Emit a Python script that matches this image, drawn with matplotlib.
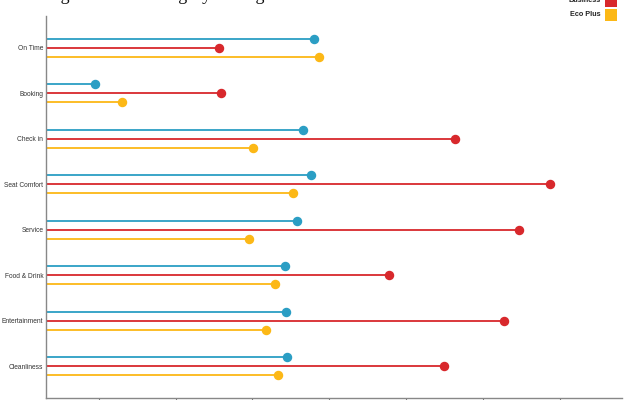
import matplotlib
matplotlib.use("Agg")
import matplotlib.pyplot as plt
from matplotlib.patches import Rectangle
from matplotlib.transforms import Affine2D
import numpy as np

categories = ["On Time", "Booking", "Check in", "Seat Comfort", "Service",
              "Food & Drink", "Entertainment", "Cleanliness"]
series_names = ["Economy", "Business", "Eco Plus"]
economy = [3.80, 0.955, 3.66, 3.76, 3.58, 3.43, 3.44, 3.45]
business = [2.56, 2.59, 5.64, 6.88, 6.47, 4.78, 6.27, 5.49]
eco_plus = [3.87, 1.30, 3.01, 3.53, 2.95, 3.30, 3.18, 3.34]
x_ticks = [1, 2, 3, 4, 5, 6, 7]

colors = ["#2b9ec4", "#d8282c", "#fcb816"]
W, H = 640, 400
fig = plt.figure(figsize=(6.4, 4.0), dpi=100)

# axes in pixel box: left 46, right 622, top 16, bottom 398
ax = fig.add_axes([46 / W, (H - 398) / H, 576 / W, 382 / H])
ax.set_xlim(1 - 52.8 / 76.9, 7 + 62.5 / 76.9)
band = 45.43
ax.set_ylim(7 + 32 / band, -32 / band)

offsets = [-9 / band, 0, 9 / band]
ypos = np.arange(len(categories))
for vals, col, off in zip([economy, business, eco_plus], colors, offsets):
    x0 = ax.get_xlim()[0]
    for y, v in zip(ypos, vals):
        ax.plot([x0, v], [y + off, y + off], color=col, lw=1.3,
                solid_capstyle="butt", zorder=2)
    ax.plot(vals, ypos + off, "o", color=col, ms=5.8, mec=col, zorder=3)

ax.set_yticks(ypos)
ax.set_yticklabels(categories, fontsize=4.8, color="#333333",
                   family=["Liberation Sans", "DejaVu Sans"])
ax.tick_params(axis="y", length=0, pad=2.0)
ax.set_xticks(x_ticks)
ax.set_xticklabels([])
ax.tick_params(axis="x", length=5, color="#777777", width=0.8)
for s in ["top", "right"]:
    ax.spines[s].set_visible(False)
for s in ["left", "bottom"]:
    ax.spines[s].set_color("#888888")
    ax.spines[s].set_linewidth(1.0)

# title (mostly cut off at top, as in reference)
fig.text(40 / W, 1.0, "Avg Scores in Category among Classes",
         family=["Liberation Serif", "DejaVu Serif"], fontsize=13,
         va="baseline", ha="left", color="#111111")

# legend at top right (partly outside figure, as in reference)
pix = Affine2D().scale(1 / W, 1 / H) + fig.transFigure
leg_y = [-13, 1, 15]
for name, col, yc in zip(series_names, colors, leg_y):
    fig.patches.append(Rectangle((605, H - (yc + 6)), 12, 12, facecolor=col,
                                 edgecolor="none", transform=pix))
    fig.text(601 / W, (H - yc) / H, name, ha="right", va="center",
             fontsize=5.2, fontweight="bold", color="#222222",
             family=["Liberation Sans", "DejaVu Sans"])

fig.savefig("out.png", dpi=100)
